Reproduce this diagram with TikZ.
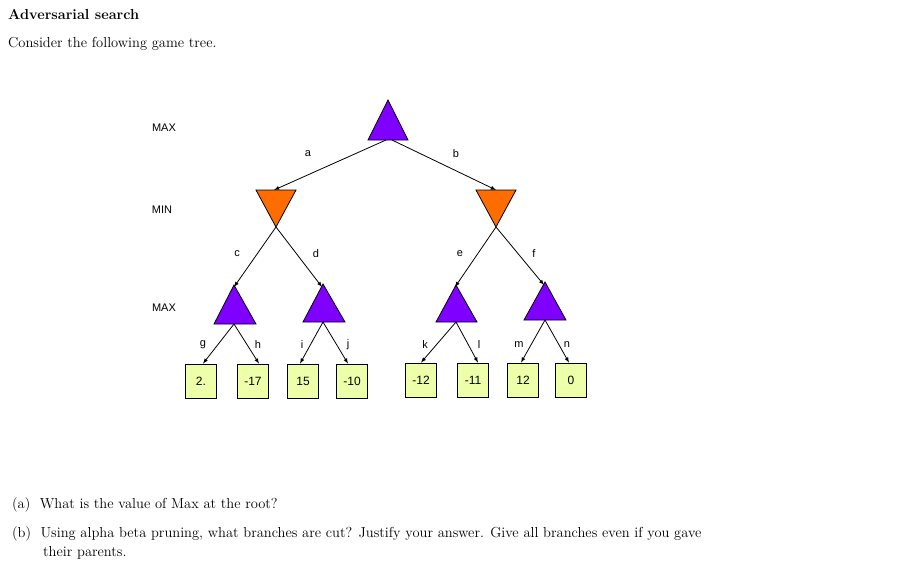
\documentclass[tikz,border=0pt]{standalone}
\usepackage{fontspec}
\newfontfamily\sff{Liberation Sans}
\begin{document}
\begin{tikzpicture}[x=1pt,y=-1pt,
  edge/.style={-latex,thick,black,shorten >=0pt},
  mx/.style={fill={rgb,255:red,128;green,0;blue,255},draw=black,thick},
  mn/.style={fill={rgb,255:red,255;green,109;blue,0},draw=black,thick},
  leaf/.style={draw=black,thick,fill={rgb,255:red,238;green,255;blue,170},minimum width=31pt,minimum height=34pt,inner sep=0pt,font=\sff\fontsize{12}{14}\selectfont},
  lbl/.style={font=\sff\fontsize{11}{13}\selectfont,inner sep=0pt},
  txt/.style={anchor=base west,inner sep=0pt,font=\fontsize{14.5}{17}\selectfont}]
\useasboundingbox (0,0) rectangle (912,566);
\node[txt,font=\bfseries\fontsize{14.5}{17}\selectfont] (t1) at (8,19) {Adversarial search};
\node[txt] (t2) at (8,47) {Consider the following game tree.};
\node[txt] (qa) at (12,508) {(a)\ \ What is the value of Max at the root?};
\node[txt] (qb) at (12,537) {(b)\ \ Using alpha beta pruning, what branches are cut? Justify your answer. Give all branches even if you gave};
\node[txt] (qc) at (43,556) {their parents.};
\node[lbl] (L1) at (164,128) {MAX};
\node[lbl] (L2) at (162,210) {MIN};
\node[lbl] (L3) at (164,308) {MAX};
% triangles
\draw[mx] (388,100) -- (408,140) -- (368,140) -- cycle;
\coordinate (rb1) at (386,140); \coordinate (rb2) at (392,140);
\draw[mn] (256,190) -- (296,190) -- (276,227) -- cycle;
\coordinate (A) at (274,190); \coordinate (Ab) at (276,227);
\draw[mn] (476,190) -- (516,190) -- (496,227) -- cycle;
\coordinate (B) at (496,190); \coordinate (Bb) at (496,227);
\draw[mx] (234,285) -- (256,324) -- (214,324) -- cycle;
\coordinate (C) at (234,287); \coordinate (Cb) at (234,324);
\draw[mx] (323,284) -- (345,322) -- (303,322) -- cycle;
\coordinate (D) at (322,287); \coordinate (Db) at (323,322);
\draw[mx] (456,285) -- (477,322) -- (436,322) -- cycle;
\coordinate (E) at (455,287); \coordinate (Eb) at (456,322);
\draw[mx] (545,282) -- (566,320) -- (524,320) -- cycle;
\coordinate (F) at (544,285); \coordinate (Fb) at (545,320);
% leaves
\node[leaf] (g) at (201,381) {2.};
\node[leaf] (h) at (253,381) {-17};
\node[leaf] (i) at (303,381) {15};
\node[leaf] (j) at (352,381) {-10};
\node[leaf] (k) at (421,380) {-12};
\node[leaf] (l) at (473,380) {-11};
\node[leaf] (m) at (523,380) {12};
\node[leaf] (n) at (571,380) {0};
% edges
\draw[edge] (rb1) -- (A); \draw[edge] (rb2) -- (B);
\draw[edge] (Ab) -- (C); \draw[edge] (Ab) -- (D);
\draw[edge] (Bb) -- (E); \draw[edge] (Bb) -- (F);
\draw[edge] (Cb) -- ([xshift=2pt]g.north); \draw[edge] (Cb) -- ([xshift=6pt]h.north);
\draw[edge] (Db) -- ([xshift=-3pt]i.north); \draw[edge] (Db) -- ([xshift=-4pt]j.north);
\draw[edge] (Eb) -- ([xshift=0pt]k.north); \draw[edge] (Eb) -- ([xshift=5pt]l.north);
\draw[edge] (Fb) -- ([xshift=-2pt]m.north); \draw[edge] (Fb) -- ([xshift=-2pt]n.north);
% labels
\node[lbl] at (308,154) {a}; \node[lbl] at (456,154) {b};
\node[lbl] at (237,254) {c}; \node[lbl] at (316,254) {d};
\node[lbl] at (460,254) {e}; \node[lbl] at (534,254) {f};
\node[lbl] at (203,345) {g}; \node[lbl] at (258,345) {h};
\node[lbl] at (302,345) {i}; \node[lbl] at (348,345) {j};
\node[lbl] at (425,345) {k}; \node[lbl] at (479,345) {l};
\node[lbl] at (519,345) {m}; \node[lbl] at (567,345) {n};
\end{tikzpicture}
\end{document}
